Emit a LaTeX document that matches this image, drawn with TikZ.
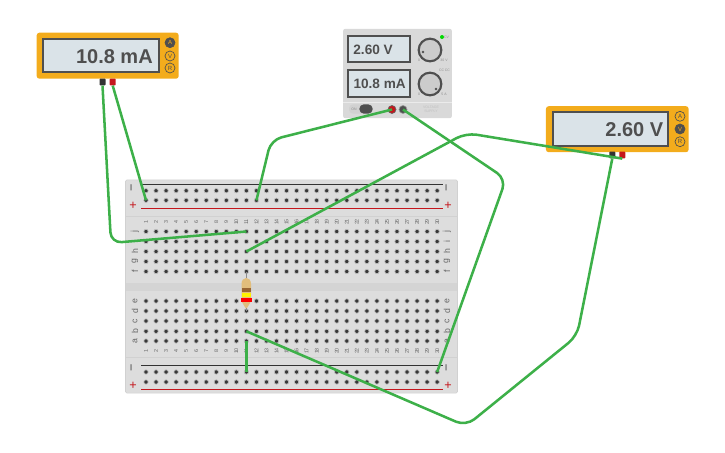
\documentclass[tikz,border=0pt]{standalone}
\usepackage{fontspec}
\setmainfont{Liberation Sans}
\definecolor{meterOrange}{HTML}{F3AC1C}
\definecolor{screenBlue}{HTML}{DAE3E8}
\definecolor{darkText}{HTML}{4F4F4F}
\definecolor{wireGreen}{HTML}{3DB049}
\definecolor{boardGray}{HTML}{DDDDDD}
\definecolor{supplyGray}{HTML}{D9D9D9}
\definecolor{railRed}{HTML}{C4161C}
\definecolor{bodyTan}{HTML}{E2BE7C}
\definecolor{knobGray}{HTML}{CCCCCC}
\begin{document}
\begin{tikzpicture}[x=0.75pt, y=-0.75pt,
            meter/.style={rectangle, rounded corners=2pt, fill=meterOrange, inner sep=0pt},
            screen/.style={rectangle, draw=darkText, line width=1.5pt, fill=screenBlue, inner sep=0pt},
            reading/.style={anchor=east, inner sep=0pt, text=darkText, font=\fontsize{15}{15}\selectfont\bfseries},
            readingSmall/.style={anchor=east, inner sep=0pt, text=darkText, font=\fontsize{10.2}{10.2}\selectfont\bfseries},
            modeOff/.style={circle, draw=darkText, line width=0.5pt, minimum size=7.5pt, inner sep=0pt, text=darkText, font=\fontsize{4.5}{4.5}\selectfont},
            modeOn/.style={modeOff, fill=darkText, text=meterOrange},
            pin/.style={rectangle, rounded corners=0.5pt, minimum width=4.5pt, minimum height=5pt, inner sep=0pt},
            knob/.style={circle, draw=darkText, line width=1.6pt, fill=knobGray, minimum size=17pt, inner sep=0pt},
            jack/.style={circle, minimum size=6pt, inner sep=0pt},
            hole/.style={circle, fill=black!78, draw=black!25, line width=0.5pt, minimum size=3.3pt, inner sep=0pt},
            colNum/.style={rotate=90, inner sep=0pt, text=black!60, font=\fontsize{4}{4}\selectfont},
            rowChar/.style={rotate=90, inner sep=0pt, text=black!60, font=\fontsize{6.5}{6.5}\selectfont},
            sign/.style={inner sep=0pt, font=\fontsize{9.5}{9.5}\selectfont},
            tiny/.style={inner sep=0pt, text=black!45, font=\fontsize{2.6}{2.6}\selectfont},
            wire/.style={draw=wireGreen, line width=1.9pt, rounded corners=8pt}]

            \useasboundingbox (0,0) rectangle (725,453);

            % breadboard
            \node[rectangle, rounded corners=1pt, fill=boardGray, draw=black!18, line width=0.4pt, minimum width=249pt, minimum height=160pt, inner sep=0pt] (Board) at (291.5,286.5) {};
            \node[rectangle, fill=black!17, minimum width=248.4pt, minimum height=6.4pt, inner sep=0pt] (Channel) at (291.5,287) {};
            \draw[black!18, line width=0.4pt] (Board.west |- 0,216) -- (Board.east |- 0,216);
            \draw[black!18, line width=0.4pt] (Board.west |- 0,357) -- (Board.east |- 0,357);

            \draw[black!80, line width=0.7pt] (141,184.5) -- (443,184.5);
            \draw[railRed, line width=0.7pt] (141,208.5) -- (443,208.5);
            \draw[black!80, line width=0.7pt] (141,365) -- (443,365);
            \draw[railRed, line width=0.7pt] (141,389.5) -- (443,389.5);

            \node[sign, rotate=90, text=black!70] (minusTL) at (133,188) {−};
            \node[sign, text=railRed] (plusTL) at (133,205.5) {+};
            \node[sign, rotate=90, text=black!70] (minusTR) at (448,188) {−};
            \node[sign, text=railRed] (plusTR) at (448,205.5) {+};
            \node[sign, rotate=90, text=black!70] (minusBL) at (133,368) {−};
            \node[sign, text=railRed] (plusBL) at (133,385.5) {+};
            \node[sign, rotate=90, text=black!70] (minusBR) at (448,368) {−};
            \node[sign, text=railRed] (plusBR) at (448,385.5) {+};

            % holes, named row-column
            \foreach \r/\y in {tm/190.7, tp/200.3, j/231.5, i/241.5, h/251.5, g/261.5, f/271.5, e/301, d/311, c/321, b/331.3, a/341, bm/372, bp/382}
                \foreach \c in {1,...,30}
                    \node[hole] (\r-\c) at ({146+(\c-1)*10.04},\y) {};

            \foreach \c in {1,...,30} {
                \node[colNum] (numT\c) at ({146+(\c-1)*10.04},222) {\c};
                \node[colNum] (numB\c) at ({146+(\c-1)*10.04},351) {\c};
            }
            \foreach \r/\y in {j/231.5, i/241.5, h/251.5, g/261.5, f/271.5, e/301, d/311, c/321, b/331.3, a/341} {
                \node[rowChar] (charL\r) at (135,\y) {\r};
                \node[rowChar] (charR\r) at (447,\y) {\r};
            }

            % resistor
            \draw[black!45, line width=1.1pt] (f-11.center) -- (d-11.center);
            \fill[bodyTan] (241.5,284) .. controls (241.5,276) and (251,276) .. (251,284) -- (251,301) .. controls (251,303) and (248,305) .. (247,308) -- (245.5,308) .. controls (244.5,305) and (241.5,303) .. (241.5,301) -- cycle;
            \fill[brown!80!black] (241.5,287.5) rectangle (251,291.5);
            \fill[yellow] (241.5,293) rectangle (251,297);
            \fill[red] (241,298) rectangle (251.5,302);

            % ammeter
            \node[meter, minimum width=106.5pt, minimum height=34.5pt] (AMeter) at (107.7,55.7) {};
            \node[screen, minimum width=87pt, minimum height=25pt] (AScreen) at (101.2,55.5) {};
            \node[reading] (AText) at (153,56.5) {10.8 mA};
            \node[modeOn] (AmodeA) at (170,42.7) {A};
            \node[modeOff] (AmodeV) at (170,56) {V};
            \node[modeOff] (AmodeR) at (170,68) {R};
            \node[pin, fill=black!80] (ABlack) at (102.5,82) {};
            \node[pin, fill=railRed] (ARed) at (112.7,82) {};

            % voltmeter
            \node[meter, minimum width=107pt, minimum height=34.5pt] (VMeter) at (617.3,129.2) {};
            \node[screen, minimum width=86.5pt, minimum height=25pt] (VScreen) at (610.8,129) {};
            \node[reading] (VText) at (663.5,129.5) {2.60 V};
            \node[modeOff] (VmodeA) at (680,116.3) {A};
            \node[modeOn] (VmodeV) at (680,129) {V};
            \node[modeOff] (VmodeR) at (680,141.7) {R};
            \node[pin, fill=black!80] (VBlack) at (612.3,155) {};
            \node[pin, fill=railRed] (VRed) at (622.3,155) {};

            % power supply
            \node[rectangle, rounded corners=1.5pt, fill=supplyGray, minimum width=81.5pt, minimum height=67pt, inner sep=0pt] (Supply) at (397.5,73.5) {};
            \draw[black!8, line width=0.5pt] (Supply.west |- 0,102) -- (Supply.east |- 0,102);
            \node[screen, minimum width=46.5pt, minimum height=19.5pt] (VoltScreen) at (379,49) {};
            \node[screen, minimum width=46.5pt, minimum height=20.5pt] (CurrScreen) at (379,83.5) {};
            \node[readingSmall] (VoltText) at (393,50) {2.60 V};
            \node[readingSmall] (CurrText) at (406,84) {10.8 mA};
            \node[knob] (KnobV) at (430,50) {};
            \node[knob] (KnobC) at (430,84) {};
            \fill[darkText] (423,52) circle (1pt);
            \fill[darkText] (436,89) circle (1pt);
            \node[circle, fill=green!85!black, minimum size=3pt, inner sep=0pt] (Led) at (442,37) {};
            \node[tiny] (LedLabel) at (446.5,37) {CV};
            \node[tiny] (CcLabel) at (444.5,70) {CC CC};
            \node[tiny] (ZeroV) at (419,60.5) {0};
            \node[tiny] (MaxV) at (444,60.5) {30 V};
            \node[tiny] (ZeroC) at (419,94.5) {0};
            \node[tiny] (MaxC) at (444,94.5) {5 A};
            \node[rectangle, rounded corners=3pt, fill=black!18, minimum width=18pt, minimum height=7pt, inner sep=0pt] (Switch) at (361,109) {};
            \node[rectangle, rounded corners=3.4pt, fill=darkText, minimum width=10pt, minimum height=7pt, inner sep=0pt] (SwitchKnob) at (366,109) {};
            \node[tiny] (SwitchOn) at (354,109.5) {ON};
            \node[jack, fill=railRed, draw=black!60, line width=0.5pt] (SRed) at (392,109.5) {};
            \node[jack, fill=darkText, draw=black!40, line width=0.5pt] (SBlack) at (403,109.5) {};
            \node[tiny, text=black!25, align=center] (SupplyLabel) at (431,109.5) {VOLTAGE\\SUPPLY};

            % wires
            \draw[wire] (ABlack.south) -- (111,243) -- (j-11.center);
            \draw[wire] (ARed.south) -- (tp-1.center);
            \draw[wire] (SRed.center) -- (271,140) -- (tp-12.center);
            \draw[wire] (SBlack.center) -- (506,179) -- (bm-30.center);
            \draw[wire] (h-11.center) -- (466,133) -- (VRed.south);
            \draw[wire] (VBlack.south) -- (577,336) -- (466,426) -- (b-11.center);
            \draw[wire] (a-11.center) -- (bm-11.center);

\end{tikzpicture}
\end{document}
